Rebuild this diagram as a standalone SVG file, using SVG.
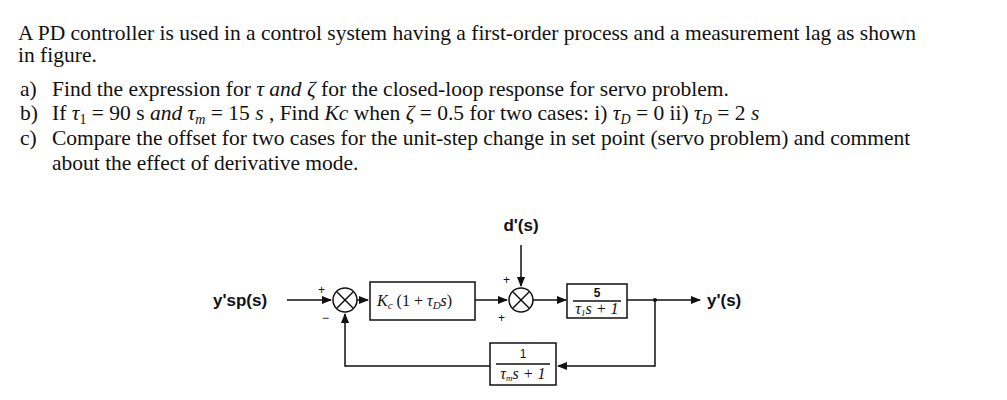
<svg xmlns="http://www.w3.org/2000/svg" width="1007" height="400" viewBox="0 0 1007 400">
<defs><marker id="a" viewBox="0 0 10 10" refX="9" refY="5" markerWidth="7" markerHeight="7" orient="auto"><path d="M0,1 L10,5 L0,9 z" fill="#111"/></marker>
<style>.t{font-family:"Liberation Serif",serif;font-size:21.5px;fill:#111}.s{font-family:"Liberation Sans",sans-serif;font-weight:bold;font-size:17px;fill:#111}.m{font-family:"Liberation Serif",serif;font-style:italic;font-size:16px;fill:#111}.p{font-family:"Liberation Sans",sans-serif;font-size:12px;fill:#111}.b{fill:#fff;stroke:#111;stroke-width:1.5}.l{stroke:#111;stroke-width:1.5;fill:none}</style></defs>
<rect width="1007" height="400" fill="#fff"/>
<g id="text">
<text class="t" x="18" y="40">A PD controller is used in a control system having a first-order process and a measurement lag as shown</text>
<text class="t" x="18" y="62">in figure.</text>
<text class="t" x="20" y="96">a)</text><text class="t" x="52" y="96">Find the expression for <tspan font-style="italic">τ and ζ</tspan> for the closed-loop response for servo problem.</text>
<text class="t" x="20" y="120">b)</text><text class="t" x="52" y="120">If <tspan font-style="italic">τ</tspan><tspan font-size="14" dy="4">1</tspan><tspan dy="-4"> = 90 s <tspan font-style="italic">and τ</tspan></tspan><tspan font-size="14" font-style="italic" dy="4">m</tspan><tspan dy="-4"> = 15 <tspan font-style="italic">s</tspan> , Find <tspan font-style="italic">Kc</tspan> when <tspan font-style="italic">ζ</tspan> = 0.5 for two cases: i) <tspan font-style="italic">τ</tspan></tspan><tspan font-size="14" font-style="italic" dy="4">D</tspan><tspan dy="-4"> = 0 ii) <tspan font-style="italic">τ</tspan></tspan><tspan font-size="14" font-style="italic" dy="4">D</tspan><tspan dy="-4"> = 2 <tspan font-style="italic">s</tspan></tspan></text>
<text class="t" x="20" y="145">c)</text><text class="t" x="52" y="145">Compare the offset for two cases for the unit-step change in set point (servo problem) and comment</text>
<text class="t" x="52" y="170">about the effect of derivative mode.</text>
</g>
<g id="connectors">
<path class="l" d="M287,300 H331" marker-end="url(#a)"/>
<path class="l" d="M357,300 H368" marker-end="url(#a)"/>
<path class="l" d="M475,300 H507" marker-end="url(#a)"/>
<path class="l" d="M521,245 V286" marker-end="url(#a)"/>
<path class="l" d="M533,300 H566" marker-end="url(#a)"/>
<path class="l" d="M627,300 H700" marker-end="url(#a)"/>
<path class="l" d="M655,300 V366 H558" marker-end="url(#a)"/>
<path class="l" d="M490,366 H345 V314" marker-end="url(#a)"/>
<circle cx="655" cy="300" r="2" fill="#111"/>
</g>
<g id="sum1"><circle class="b" cx="345" cy="300" r="12"/><path class="l" d="M337,292 L353,308 M353,292 L337,308"/><text class="p" x="318" y="294">+</text><text class="p" x="322" y="322">−</text></g>
<g id="controller"><rect class="b" x="370" y="282" width="105" height="38"/><text class="m" x="377" y="306">K<tspan font-size="11" dy="3">c</tspan><tspan dy="-3" font-style="normal"> (1 + </tspan>τ<tspan font-size="11" dy="3">D</tspan><tspan dy="-3">s</tspan><tspan font-style="normal">)</tspan></text></g>
<g id="sum2"><circle class="b" cx="521" cy="300" r="12"/><path class="l" d="M513,292 L529,308 M529,292 L513,308"/><text class="p" x="503" y="284">+</text><text class="p" x="498" y="322">+</text></g>
<g id="dist"><text class="s" x="521" y="231" text-anchor="middle">d'(s)</text></g>
<g id="process"><rect class="b" x="567" y="284" width="60" height="34"/><text class="p" x="597" y="297" text-anchor="middle" font-weight="bold">5</text><path class="l" d="M573,301 H621" stroke-width="1"/><text class="m" x="597" y="314" text-anchor="middle" font-size="13">τ<tspan font-size="9" dy="2">1</tspan><tspan dy="-2">s + 1</tspan></text></g>
<g id="lag"><rect class="b" x="490" y="343" width="66" height="42"/><text class="p" x="523" y="358" text-anchor="middle">1</text><path class="l" d="M496,364 H550" stroke-width="1"/><text class="m" x="523" y="379" text-anchor="middle" font-size="13">τ<tspan font-size="9" dy="2">m</tspan><tspan dy="-2">s + 1</tspan></text></g>
<g id="labels"><text class="s" x="213" y="306">y'sp(s)</text><text class="s" x="707" y="306">y'(s)</text></g>
</svg>
